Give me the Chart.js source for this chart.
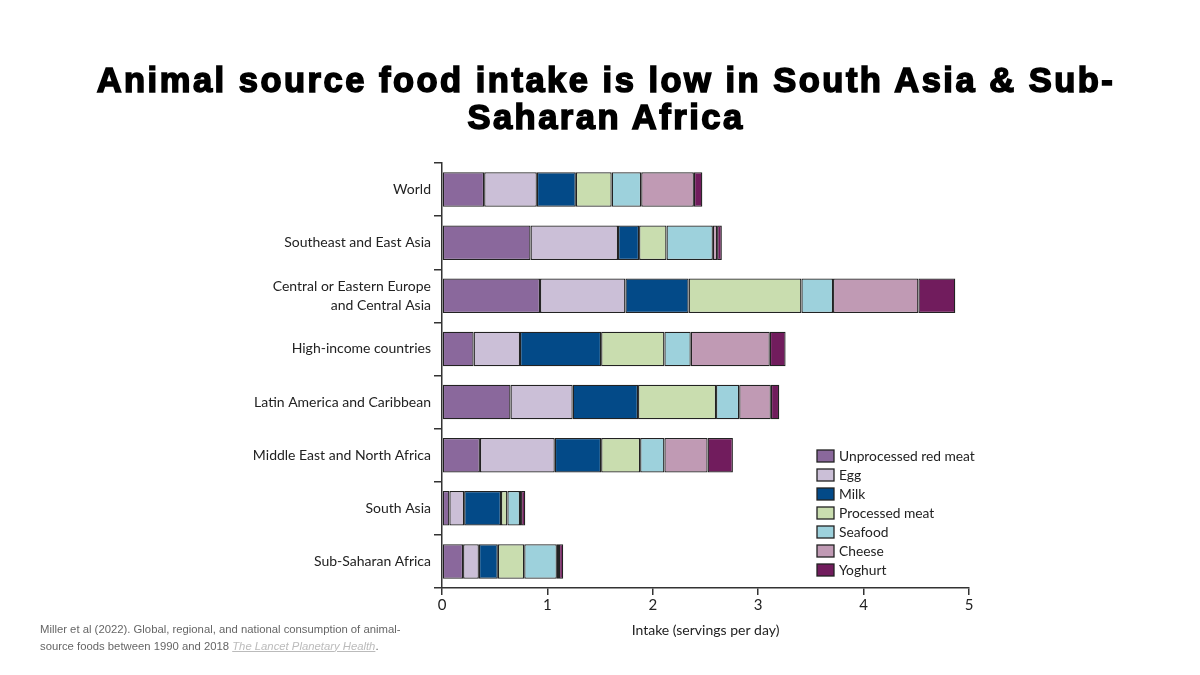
<!DOCTYPE html>
<html>
<head>
<meta charset="utf-8">
<script src="https://cdn.jsdelivr.net/npm/chart.js@4/dist/chart.umd.min.js"></script>
<style>
  html, body { margin: 0; padding: 0; background: #fff; }
  #wrap { position: relative; width: 1200px; height: 675px; overflow: hidden; }
  #title {
    position: absolute; left: 0; top: 62px; width: 1212px; text-align: center;
    font: bold 34.5px "Liberation Sans", Arial, sans-serif; line-height: 37px; color: #000;
    letter-spacing: 2.5px; -webkit-text-stroke: 1.6px #000;
  }
  #chart { position: absolute; left: 0; top: 0; }
  #cite {
    position: absolute; left: 40px; top: 621px;
    font: 11.3px "Liberation Sans", Arial, sans-serif; line-height: 16.5px; color: #666;
  }
  #cite a { color: #bbb; font-style: italic; text-decoration: underline; }
</style>
</head>
<body>
<div id="wrap">
  <canvas id="chart" width="1200" height="675"></canvas>
  <div id="title">Animal source food intake is low in South Asia &amp; Sub-<br>Saharan Africa</div>
  <div id="cite">Miller et al (2022). Global, regional, and national consumption of animal-<br>source foods between 1990 and 2018 <a>The Lancet Planetary Health</a>.</div>
</div>
<script>
// Data (servings per day)
const regions = [
  "World",
  "Southeast and East Asia",
  ["Central or Eastern Europe", "and Central Asia"],
  "High-income countries",
  "Latin America and Caribbean",
  "Middle East and North Africa",
  "South Asia",
  "Sub-Saharan Africa",
]
const redMeat = [0.40, 0.84, 0.93, 0.30, 0.65, 0.36, 0.07, 0.20]
const egg = [0.50, 0.83, 0.81, 0.44, 0.59, 0.71, 0.14, 0.15]
const milk = [0.37, 0.20, 0.60, 0.77, 0.62, 0.44, 0.35, 0.18]
const processedMeat = [0.34, 0.26, 1.07, 0.60, 0.74, 0.37, 0.06, 0.25]
const seafood = [0.28, 0.44, 0.30, 0.25, 0.22, 0.23, 0.12, 0.31]
const cheese = [0.50, 0.04, 0.81, 0.75, 0.30, 0.41, 0.01, 0.02]
const yoghurt = [0.08, 0.045, 0.35, 0.15, 0.08, 0.24, 0.04, 0.04]
const xTicks = [0, 1, 2, 3, 4, 5]

const font = "Lato, 'Open Sans', sans-serif"
const ink = "#222"

function series(label, data, color) {
  return {
    label: label,
    data: data,
    backgroundColor: color,
    borderColor: ink,
    borderWidth: 1.3,
    borderSkipped: false,
    barPercentage: 0.65,
    categoryPercentage: 1,
  }
}

// legend drawn inside the plot, bottom right
const insideLegend = {
  id: "insideLegend",
  afterDraw(chart) {
    const ctx = chart.ctx
    const area = chart.chartArea
    const left = area.right - 152
    let y = area.bottom - 132
    ctx.save()
    ctx.font = "13.8px " + font
    ctx.textBaseline = "middle"
    chart.data.datasets.forEach(function (ds) {
      ctx.fillStyle = ds.backgroundColor
      ctx.fillRect(left, y - 6, 17, 12)
      ctx.strokeStyle = ink
      ctx.lineWidth = 1.3
      ctx.strokeRect(left, y - 6, 17, 12)
      ctx.fillStyle = ink
      ctx.fillText(ds.label, left + 22, y + 1)
      y += 19
    })
    ctx.restore()
  },
}

new Chart(document.getElementById("chart"), {
  type: "bar",
  data: {
    labels: regions,
    datasets: [
      series("Unprocessed red meat", redMeat, "#8a689c"),
      series("Egg", egg, "#cbbfd7"),
      series("Milk", milk, "#034a88"),
      series("Processed meat", processedMeat, "#c9ddaf"),
      series("Seafood", seafood, "#9dd1dc"),
      series("Cheese", cheese, "#c09ab4"),
      series("Yoghurt", yoghurt, "#711c5d"),
    ],
  },
  plugins: [insideLegend],
  options: {
    indexAxis: "y",
    responsive: false,
    animation: false,
    layout: { padding: { top: 163, bottom: 32, right: 231, left: 0 } },
    plugins: {
      legend: { display: false },
      tooltip: { enabled: false },
    },
    scales: {
      x: {
        stacked: true,
        min: 0,
        max: 5,
        afterBuildTicks: function (scale) {
          scale.ticks = xTicks.map(function (v) { return { value: v } })
        },
        afterFit: function (scale) { scale.height = 55 },
        border: { color: "#333", width: 1.5 },
        grid: { drawOnChartArea: false, color: "#333", lineWidth: 1.5, tickLength: 7 },
        ticks: { color: ink, font: { family: font, size: 15 }, padding: 1 },
        title: {
          display: true,
          text: "Intake (servings per day)",
          color: ink,
          font: { family: font, size: 14 },
          padding: { top: 5 },
        },
      },
      y: {
        stacked: true,
        afterFit: function (scale) { scale.width = 442 },
        border: { color: "#333", width: 1.5 },
        grid: { offset: true, drawOnChartArea: false, color: "#333", lineWidth: 1.5, tickLength: 8 },
        ticks: { color: ink, font: { family: font, size: 14, lineHeight: 1.35 }, padding: 3 },
      },
    },
  },
})
</script>
</body>
</html>
